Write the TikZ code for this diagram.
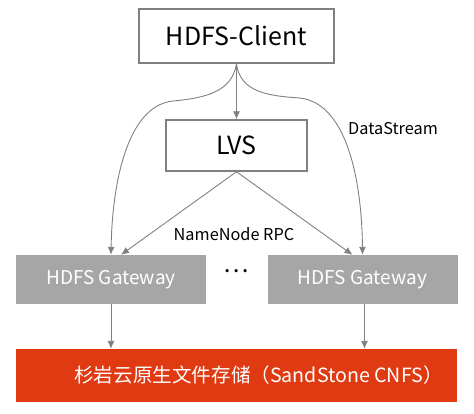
\documentclass[tikz,border=0pt]{standalone}
\usepackage{fontspec}
\setmainfont{Noto Sans CJK SC}
\usetikzlibrary{arrows.meta}
\definecolor{linegray}{HTML}{808080}
\definecolor{boxgray}{HTML}{A6A6A6}
\definecolor{cnfsred}{HTML}{E03A12}
\begin{document}
\begin{tikzpicture}[x=1pt,y=-1pt,>={Latex[length=8pt,width=7pt]},
  plain/.style={draw=linegray,line width=1.5pt,fill=white,inner sep=0pt,font=\fontsize{25}{28}\selectfont},
  gateway/.style={fill=boxgray,text=white,inner sep=0pt,minimum width=190pt,minimum height=49pt,font=\fontsize{19}{22}\selectfont},
  link/.style={draw=linegray,line width=0.9pt,->},
  label/.style={font=\fontsize{16.3}{19}\selectfont}]
\useasboundingbox (0,0) rectangle (474,413);

\node[plain,minimum width=195pt,minimum height=54pt] (client) at (236.5,36) {HDFS-Client};
\node[plain,minimum width=141pt,minimum height=51pt] (lvs) at (236.5,145.5) {LVS};
\node[gateway] (gwl) at (111,279.5) {HDFS Gateway};
\node[gateway] (gwr) at (362.5,279.5) {HDFS Gateway};
\node[fill=cnfsred,text=white,inner sep=0pt,minimum width=441pt,minimum height=53pt,font=\fontsize{19.6}{22}\selectfont] (store) at (236.5,375.5) {\hspace*{44pt}杉岩云原生文件存储（SandStone CNFS）};

\node[font=\fontsize{24}{26}\selectfont] (dots) at (236,271) {…};
\node[label] (rpc) at (234,234) {NameNode RPC};
\node[label] (ds) at (393,129) {DataStream};

% client side
\draw[link] (client) -- (lvs);
\draw[link] (client.south) .. controls (232,92) and (205,98) .. (173,101)
  .. controls (125,106) and (112,190) .. (gwl.north);
\draw[link] (client.south) .. controls (240,92) and (268,96) .. (300,98)
  .. controls (350,104) and (362,190) .. (gwr.north);

% name node rpc
\draw[link] (lvs.south) -- ([xshift=10pt]gwl.north);
\draw[link] (lvs.south) -- ([xshift=-10pt]gwr.north);

\draw[link] (gwl.south) -- (gwl.south |- store.north);
\draw[link] ([xshift=2pt]gwr.south) -- ([xshift=2pt]gwr.south |- store.north);

\end{tikzpicture}
\end{document}
